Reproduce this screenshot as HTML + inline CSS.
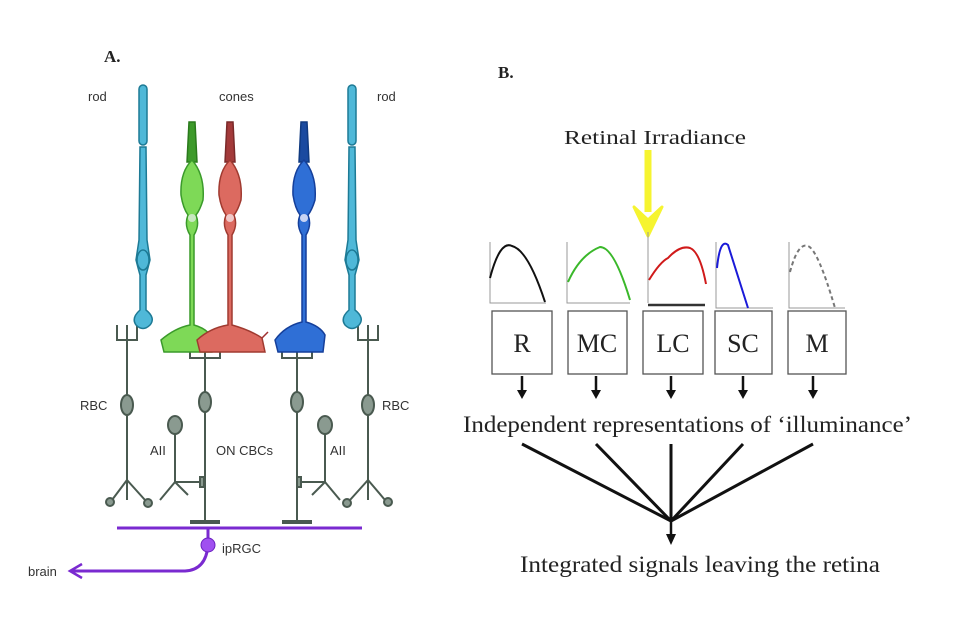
<!DOCTYPE html>
<html><head><meta charset="utf-8"><style>
html,body{margin:0;padding:0;background:#fff;}
svg{display:block;}
.s{font-family:"Liberation Sans",sans-serif;font-size:13px;fill:#333;}
.r{font-family:"Liberation Serif",serif;fill:#222;}
</style></head><body>
<svg width="960" height="640" viewBox="0 0 960 640">
<!-- Panel A -->
<text x="104" y="62" class="r" font-size="17" font-weight="bold">A.</text>
<text x="88" y="101" class="s">rod</text>
<text x="219" y="101" class="s">cones</text>
<text x="377" y="101" class="s">rod</text>

<g stroke="#4a5a50" stroke-width="2" fill="#8a9a90">
 <path d="M127,340 V500 M117,325 v15 h20 v-15 M127,325 v15" fill="none"/>
 <ellipse cx="127" cy="405" rx="6" ry="10"/>
 <path d="M127,480 L112,500 M127,480 L145,500" fill="none"/>
 <circle cx="110" cy="502" r="4"/><circle cx="148" cy="503" r="4"/>
 <path d="M368,340 V500 M358,325 v15 h20 v-15 M368,325 v15" fill="none"/>
 <ellipse cx="368" cy="405" rx="6" ry="10"/>
 <path d="M368,480 L350,500 M368,480 L385,500" fill="none"/>
 <circle cx="347" cy="503" r="4"/><circle cx="388" cy="502" r="4"/>
 <path d="M205,365 V520 M190,350 v8 h30 v-8 M205,350 v15" fill="none"/>
 <ellipse cx="205" cy="402" rx="6" ry="10"/>
 <path d="M190,522 h30" stroke-width="4"/>
 <path d="M297,365 V520 M282,350 v8 h30 v-8 M297,350 v15" fill="none"/>
 <ellipse cx="297" cy="402" rx="6" ry="10"/>
 <path d="M282,522 h30" stroke-width="4"/>
 <ellipse cx="175" cy="425" rx="7" ry="9"/>
 <path d="M175,434 V482 L160,500 M175,482 L188,495 M175,482 H203" fill="none"/>
 <rect x="200" y="477" width="4" height="10"/>
 <ellipse cx="325" cy="425" rx="7" ry="9"/>
 <path d="M325,434 V482 L340,500 M325,482 L312,495 M325,482 H299" fill="none"/>
 <rect x="297" y="477" width="4" height="10"/>
</g>
<text x="80" y="410" class="s">RBC</text>
<text x="382" y="410" class="s">RBC</text>
<text x="150" y="455" class="s">AII</text>
<text x="330" y="455" class="s">AII</text>
<text x="216" y="455" class="s">ON CBCs</text>

<g stroke="#1d7a95" stroke-width="1.5" fill="#4fb8d8">
 <rect x="139" y="85" width="8" height="60" rx="4"/>
 <path d="M140,147 h6 L147,240 L150,260 Q148,268 146,275 L146,310 Q156,318 150,325 Q143,332 136,325 Q131,318 140,310 L140,275 Q138,268 136,260 L139,240 Z"/>
 <ellipse cx="143" cy="260" rx="6" ry="10"/>
 <rect x="348" y="85" width="8" height="60" rx="4"/>
 <path d="M349,147 h6 L356,240 L359,260 Q357,268 355,275 L355,310 Q365,318 359,325 Q352,332 345,325 Q340,318 349,310 L349,275 Q347,268 345,260 L348,240 Z"/>
 <ellipse cx="352" cy="260" rx="6" ry="10"/>
</g>
<g stroke-width="1.5">
 <path d="M189,122 h6 l2,40 h-10 Z" fill="#3d9a2a" stroke="#2a7a1c"/>
 <path d="M192,160 Q205,175 203,200 Q200,210 196,215 Q200,225 194,235 L194,325 Q212,330 214,345 L212,352 H164 L161,340 Q175,328 190,325 L190,235 Q184,225 188,215 Q183,208 181,195 Q180,172 192,160 Z" fill="#7ed957" stroke="#3a9a2a"/>
 <path d="M227,122 h6 l2,40 h-10 Z" fill="#a33a3a" stroke="#7a2a2a"/>
 <path d="M230,160 Q243,175 241,200 Q238,210 234,215 Q238,225 232,235 L232,325 Q250,330 262,338 L265,352 H200 L197,340 Q210,328 228,325 L228,235 Q222,225 226,215 Q221,208 219,195 Q218,172 230,160 Z" fill="#dc6a60" stroke="#a03a30"/>
 <path d="M262,338 L268,332" stroke="#a03030"/>
 <path d="M301,122 h6 l2,40 h-10 Z" fill="#1a4aa0" stroke="#103a80"/>
 <path d="M304,160 Q317,175 315,200 Q312,210 308,215 Q312,225 306,235 L306,322 Q320,326 325,335 L323,352 H278 L275,340 Q285,326 302,322 L302,235 Q296,225 300,215 Q295,208 293,195 Q292,172 304,160 Z" fill="#2f6fd6" stroke="#153f9a"/>
</g>
<circle cx="192" cy="218" r="4" fill="#c8e8c0"/><circle cx="230" cy="218" r="4" fill="#f0c8c8"/><circle cx="304" cy="218" r="4" fill="#c8d4f4"/>
<path d="M117,528 H362" stroke="#7a2ad0" stroke-width="3"/>
<path d="M208,528 V545 Q206,570 185,571 H72" stroke="#7a2ad0" stroke-width="3" fill="none"/>
<path d="M82,564 L70,571 L82,578" stroke="#7a2ad0" stroke-width="2.5" fill="none"/>
<circle cx="208" cy="545" r="7" fill="#a050f0" stroke="#6a20c0"/>
<text x="222" y="553" class="s">ipRGC</text>
<text x="28" y="576" class="s">brain</text>

<!-- Panel B -->
<text x="498" y="78" class="r" font-size="17" font-weight="bold">B.</text>
<text x="564" y="144" class="r" font-size="20" textLength="182" lengthAdjust="spacingAndGlyphs">Retinal Irradiance</text>
<path d="M648,150 V212" stroke="#f6f430" stroke-width="7"/>
<path d="M634,207 L648,236 L662,207 L648,220 Z" fill="#f6f430" stroke="#f6f430" stroke-width="3" stroke-linejoin="round"/>
<g stroke="#999" stroke-width="1" fill="none">
 <path d="M490,242 V303 H546"/>
 <path d="M567,242 V303 H630"/>
 <path d="M648,232 V303"/>
 <path d="M716,242 V308 H773"/>
 <path d="M789,242 V308 H845"/>
</g>
<path d="M648,305 H705" stroke="#333" stroke-width="2.5"/>
<path d="M490,278 Q500,240 512,246 Q528,250 545,302" stroke="#111" stroke-width="2" fill="none"/>
<path d="M568,282 Q580,255 600,247 Q614,247 630,300" stroke="#3ab82a" stroke-width="2" fill="none"/>
<path d="M649,280 Q660,262 668,258 Q680,245 690,248 Q700,252 706,284" stroke="#d01a1a" stroke-width="2" fill="none"/>
<path d="M717,268 Q720,238 728,245 L748,308" stroke="#1a1ad8" stroke-width="2" fill="none"/>
<path d="M790,272 Q798,242 808,246 Q818,250 835,308" stroke="#777" stroke-width="2" stroke-dasharray="4,3" fill="none"/>
<g stroke="#555" stroke-width="1.3" fill="#fff">
 <rect x="492" y="311" width="60" height="63"/>
 <rect x="568" y="311" width="59" height="63"/>
 <rect x="643" y="311" width="60" height="63"/>
 <rect x="715" y="311" width="57" height="63"/>
 <rect x="788" y="311" width="58" height="63"/>
</g>
<g class="r" font-size="26" text-anchor="middle">
 <text x="522" y="352">R</text><text x="597" y="352">MC</text><text x="673" y="352">LC</text><text x="743" y="352">SC</text><text x="817" y="352">M</text>
</g>
<g stroke="#111" stroke-width="2.5">
 <path d="M522,376 V392"/><path d="M596,376 V392"/><path d="M671,376 V392"/><path d="M743,376 V392"/><path d="M813,376 V392"/>
</g>
<g fill="#111">
 <path d="M517,390 h10 l-5,9 Z"/><path d="M591,390 h10 l-5,9 Z"/><path d="M666,390 h10 l-5,9 Z"/><path d="M738,390 h10 l-5,9 Z"/><path d="M808,390 h10 l-5,9 Z"/>
</g>
<text x="463" y="432" class="r" font-size="23" textLength="449" lengthAdjust="spacingAndGlyphs">Independent representations of ‘illuminance’</text>
<g stroke="#111" stroke-width="3">
 <path d="M522,444 L671,521"/><path d="M596,444 L671,521"/><path d="M671,444 L671,521"/><path d="M743,444 L671,521"/><path d="M813,444 L671,521"/>
</g>
<path d="M671,519 V536" stroke="#111" stroke-width="2.5"/>
<path d="M666,534 h10 l-5,11 Z" fill="#111"/>
<text x="520" y="572" class="r" font-size="23" textLength="360" lengthAdjust="spacingAndGlyphs">Integrated signals leaving the retina</text>
</svg>
</body></html>
